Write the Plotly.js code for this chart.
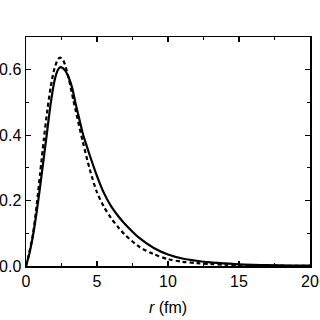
<!DOCTYPE html>
<html><head><meta charset="utf-8">
<script src="https://cdn.plot.ly/plotly-3.0.1.min.js"></script>
<style>html,body{margin:0;padding:0;background:#fff}#chart{width:320px;height:320px}</style>
</head><body><div id="chart"></div>
<script>
const rSolid = [0,0.25,0.5,0.75,1.0,1.25,1.5,1.75,2.0,2.25,2.44,2.75,3.0,3.25,3.5,3.75,4.0,4.25,4.5,5.0,5.5,6.0,6.5,7.0,8.0,9.0,10,11,12,13,14,15,16,17,18,19,20];
const vSolid = [0,0.04,0.095,0.165,0.245,0.33,0.415,0.50,0.565,0.600,0.608,0.598,0.577,0.545,0.495,0.45,0.405,0.37,0.337,0.275,0.222,0.182,0.152,0.127,0.085,0.055,0.035,0.023,0.016,0.011,0.008,0.005,0.0035,0.0025,0.0018,0.0012,0.001];
const rDash = [0,0.25,0.5,0.75,1.0,1.25,1.5,1.75,2.0,2.25,2.39,2.6,2.75,3.0,3.33,3.5,4.0,4.5,5.0,5.5,6.0,6.5,7.0,8.0,9.0,10,11,12,13,14,15,16,17,18,19,20];
const vDash = [0,0.045,0.10,0.185,0.285,0.385,0.475,0.55,0.603,0.632,0.637,0.630,0.615,0.575,0.508,0.475,0.38,0.294,0.225,0.18,0.146,0.118,0.094,0.058,0.036,0.021,0.013,0.009,0.006,0.004,0.003,0.002,0.0012,0.0008,0.0005,0.0003];
const xTicks = [0,5,10,15,20];
const yTicks = [0.0,0.2,0.4,0.6];
const yTickText = ['0.0','0.2','0.4','0.6'];

const traces = [
  {x:rSolid, y:vSolid, mode:'lines', line:{color:'#000', width:2.2, shape:'spline', smoothing:0.8}, hoverinfo:'skip'},
  {x:rDash, y:vDash, mode:'lines', line:{color:'#000', width:2.2, dash:'4px,3px', shape:'spline', smoothing:0.8}, hoverinfo:'skip'}
];
const fontFam = 'Liberation Sans, Arial, sans-serif';
const axisCommon = {showgrid:false, zeroline:false, showline:true, linecolor:'#000', linewidth:1.5,
  mirror:'allticks', ticks:'inside', ticklen:5, tickwidth:1.2, tickcolor:'#000', automargin:false,
  tickfont:{family:fontFam, size:16, color:'#000'}};
const layout = {
  width:320, height:320, showlegend:false,
  margin:{l:26, r:10, t:37, b:54},
  paper_bgcolor:'#fff', plot_bgcolor:'#fff',
  xaxis:Object.assign({}, axisCommon, {range:[0,20], tickvals:xTicks, ticktext:xTicks.map(String),
    minor:{dtick:2.5, tick0:0, ticks:'inside', ticklen:3, tickcolor:'#000', tickwidth:1},
    title:{text:'<i>r</i> (fm)', font:{family:fontFam, size:16, color:'#000'}, standoff:13}}),
  yaxis:Object.assign({}, axisCommon, {range:[0,0.7], tickvals:yTicks, ticktext:yTickText,
    minor:{dtick:0.1, tick0:0, ticks:'inside', ticklen:3, tickcolor:'#000', tickwidth:1}})
};
Plotly.newPlot('chart', traces, layout, {staticPlot:true, displayModeBar:false});
</script></body></html>
